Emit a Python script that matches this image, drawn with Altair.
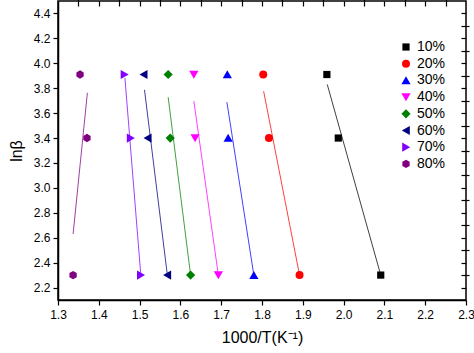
import altair as alt
import pandas as pd

# ---- data ----
series = ["10%", "20%", "30%", "40%", "50%", "60%", "70%", "80%"]
ln_beta = [3.91, 3.40, 2.30]
x_at_391 = [1.959, 1.803, 1.715, 1.633, 1.570, 1.510, 1.463, 1.354]
x_at_340 = [1.987, 1.817, 1.717, 1.636, 1.575, 1.520, 1.478, 1.371]
x_at_230 = [2.091, 1.892, 1.780, 1.693, 1.625, 1.568, 1.503, 1.337]

# fitted line segment ends
fit_top_x = [1.960, 1.804, 1.714, 1.633, 1.570, 1.512, 1.464, 1.372]
fit_top_y = [3.83, 3.776, 3.688, 3.696, 3.728, 3.787, 3.883, 3.763]
fit_bot_x = [2.091, 1.892, 1.780, 1.693, 1.625, 1.568, 1.503, 1.337]
fit_bot_y = [2.30, 2.30, 2.30, 2.30, 2.30, 2.30, 2.30, 2.63]

colors = ["#000000", "#FF0000", "#0000FF", "#FF00FF", "#008000", "#000080", "#8000FF", "#800080"]
square = "M-0.9,-0.9L0.9,-0.9L0.9,0.9L-0.9,0.9Z"
tri_up = "M0,-1.05L1.15,0.95L-1.15,0.95Z"
tri_down = "M0,1.05L1.15,-0.95L-1.15,-0.95Z"
diamond = "M0,-1.15L1.15,0L0,1.15L-1.15,0Z"
tri_left = "M-1.05,0L0.95,-1.15L0.95,1.15Z"
tri_right = "M1.05,0L-0.95,-1.15L-0.95,1.15Z"
hexagon = "M0,-1.05L0.91,-0.52L0.91,0.52L0,1.05L-0.91,0.52L-0.91,-0.52Z"
shapes = [square, "circle", tri_up, tri_down, diamond, tri_left, tri_right, hexagon]

x_major = [1.3, 1.4, 1.5, 1.6, 1.7, 1.8, 1.9, 2.0, 2.1, 2.2, 2.3]
x_minor = [1.35, 1.45, 1.55, 1.65, 1.75, 1.85, 1.95, 2.05, 2.15, 2.25]
y_major = [2.2, 2.4, 2.6, 2.8, 3.0, 3.2, 3.4, 3.6, 3.8, 4.0, 4.2, 4.4]
y_minor = [2.3, 2.5, 2.7, 2.9, 3.1, 3.3, 3.5, 3.7, 3.9, 4.1, 4.3]
y_right = [2.2, 2.3, 2.4, 2.5, 2.6, 2.7, 2.8, 2.9, 3.0, 3.1, 3.2, 3.3, 3.4, 3.5,
           3.6, 3.7, 3.8, 3.9, 4.0, 4.1, 4.2, 4.3, 4.4]
x_top = sorted(x_major[1:-1] + x_minor)

# ---- tables ----
pts_rows = []
for i, s in enumerate(series):
    for yv, xv in zip(ln_beta, [x_at_391[i], x_at_340[i], x_at_230[i]]):
        pts_rows.append({"series": s, "x": xv, "y": yv})
pts_df = pd.DataFrame(pts_rows)

line_rows = []
for i, s in enumerate(series):
    line_rows.append({"fit": s, "x": fit_top_x[i], "y": fit_top_y[i], "o": 0})
    line_rows.append({"fit": s, "x": fit_bot_x[i], "y": fit_bot_y[i], "o": 1})
lines_df = pd.DataFrame(line_rows)

FONT = "Liberation Sans"
x_scale = alt.Scale(domain=[1.3, 2.3], nice=False, zero=False)
y_scale = alt.Scale(domain=[2.1, 4.5], nice=False, zero=False)

main_x_axis = alt.Axis(values=x_major, format=".1f", tickSize=5, labelFontSize=12,
                       labelFont=FONT, labelColor="black", labelPadding=4,
                       labelFlush=False,
                       title="1000/T(K⁻¹)", titleFont=FONT, titleFontSize=16,
                       titleFontWeight="normal", titleColor="black", titlePadding=9,
                       domainColor="black", domainWidth=1.5, tickColor="black",
                       tickWidth=1.2, grid=False)
main_y_axis = alt.Axis(values=y_major, format=".1f", tickSize=5, labelFontSize=12,
                       labelFont=FONT, labelColor="black", labelPadding=3,
                       labelFlush=False,
                       title="lnβ", titleFont=FONT, titleFontSize=16,
                       titleFontWeight="normal", titleColor="black", titlePadding=9,
                       domainColor="black", domainWidth=1.5, tickColor="black",
                       tickWidth=1.2, grid=False)
minor_x_axis = alt.Axis(values=x_minor, tickSize=3, labels=False, domain=False,
                        title=None, tickColor="black", tickWidth=1.2, grid=False)
minor_y_axis = alt.Axis(values=y_minor, tickSize=3, labels=False, domain=False,
                        title=None, tickColor="black", tickWidth=1.2, grid=False)
top_axis = alt.Axis(orient="top", values=x_top, tickSize=5, offset=-5, labels=False,
                    domain=False, title=None, tickColor="black", tickWidth=1.2, grid=False)
right_axis = alt.Axis(orient="right", values=y_right, tickSize=5, offset=-5, labels=False,
                      domain=False, title=None, tickColor="black", tickWidth=1.2, grid=False)

lines = alt.Chart(lines_df).mark_line(strokeWidth=1, opacity=0.75).encode(
    x=alt.X("x:Q", scale=x_scale, axis=main_x_axis),
    y=alt.Y("y:Q", scale=y_scale, axis=main_y_axis),
    stroke=alt.Stroke("fit:N", scale=alt.Scale(domain=series, range=colors), legend=None),
    detail="fit:N",
    order="o:Q",
)

legend = alt.Legend(orient="none", legendX=341, legendY=39, title=None,
                    labelFont=FONT, labelFontSize=14, labelColor="black",
                    labelOffset=4, rowPadding=2.7, symbolSize=64,
                    symbolStrokeWidth=0, padding=0)

points = alt.Chart(pts_df).mark_point(filled=True, size=64, opacity=1).encode(
    x=alt.X("x:Q", scale=x_scale, axis=minor_x_axis),
    y=alt.Y("y:Q", scale=y_scale, axis=minor_y_axis),
    color=alt.Color("series:N", scale=alt.Scale(domain=series, range=colors), legend=legend),
    shape=alt.Shape("series:N", scale=alt.Scale(domain=series, range=shapes), legend=legend),
)

frame = alt.Chart(pts_df).mark_point(opacity=0).encode(
    x=alt.X("x:Q", scale=x_scale, axis=top_axis),
    y=alt.Y("y:Q", scale=y_scale, axis=right_axis),
)

chart = (
    alt.layer(lines, points, frame)
    .resolve_axis(x="independent", y="independent")
    .resolve_scale(stroke="independent")
    .properties(width=408, height=299,
                padding={"left": 58, "top": 1, "right": 8, "bottom": 53},
                autosize=alt.AutoSizeParams(type="none"),
                background="white")
    .configure_view(stroke="black", strokeWidth=1.5)
)

chart.save("out.html", embed_options={"renderer": "svg", "actions": False})
